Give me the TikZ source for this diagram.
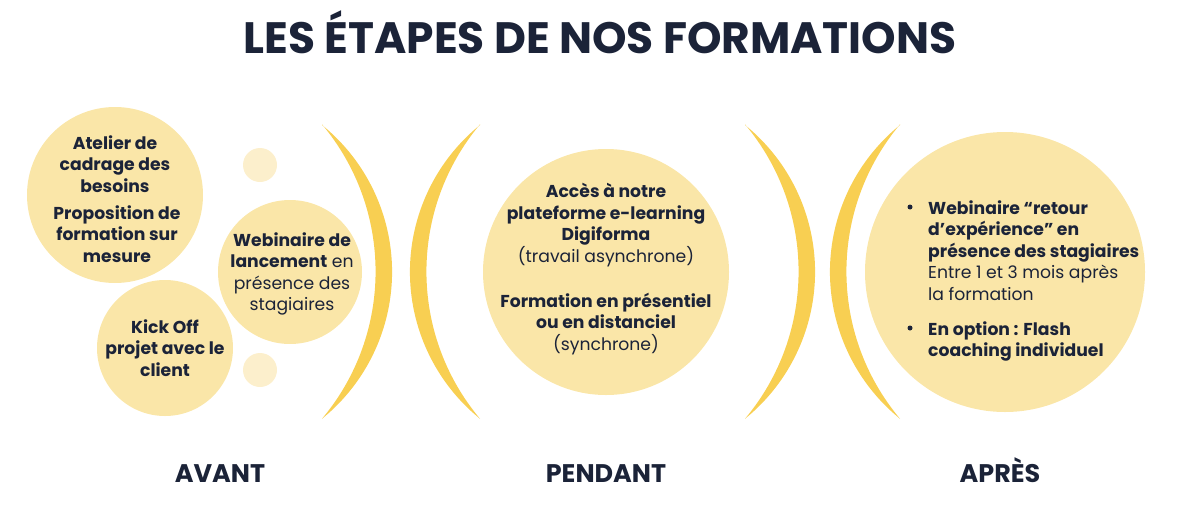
\documentclass[tikz,border=0pt]{standalone}
\usepackage{fontspec}
\setmainfont{Poppins}
\usetikzlibrary{positioning}
\definecolor{navy}{HTML}{1B2338}
\definecolor{bulle}{HTML}{FAE6A8}
\definecolor{pale}{HTML}{FCEFCC}
\definecolor{jaune}{HTML}{F8CF52}
\tikzset{
  bulle/.style={circle,fill=bulle,inner sep=0pt,minimum size=#1*0.02cm},
  txt/.style={text=navy,align=center,font=\fontsize{9.8}{12.3}\selectfont},
  puce/.style={circle,fill=navy,inner sep=0pt,minimum size=5*0.02cm},
  etape/.style={text=navy,anchor=base,font=\fontsize{14.5}{16}\selectfont\bfseries},
  arc/.style={fill=jaune}
}
% demi-lune en forme de parenthese
\newcommand\parenth[2]{%
  \fill[arc,shift={(#1,0)},xscale=#2] (0,387) arc[start angle=51,end angle=-51,radius=189]
    arc[start angle=-40,end angle=40,radius=229] -- cycle;}
\begin{document}
\begin{tikzpicture}[x=0.02cm,y=0.02cm]
  \useasboundingbox (0,0) rectangle (1200,512);

  % titre
  \node[text=navy,font=\fontsize{25}{28}\selectfont\bfseries] (titre) at (600,480) {LES ÉTAPES DE NOS FORMATIONS};

  % bulles
  \node[bulle=176] (atelier) at (115,317) {};
  \node[bulle=136] (kickoff) at (165,164) {};
  \node[bulle=144] (webinaire) at (290,240) {};
  \node[bulle=34,fill=pale] (pointA) at (260,347) {};
  \node[bulle=34,fill=pale] (pointB) at (260,142) {};
  \node[bulle=246] (pendant) at (606,240) {};
  \node[bulle=280] (apres) at (1005,240) {};

  % parentheses
  \parenth{322}{1}
  \parenth{480}{-1}
  \parenth{745}{1}
  \parenth{900}{-1}

  % textes
  \node[txt] (t1) at (115,348) {\bfseries Atelier de\\\bfseries cadrage des\\\bfseries besoins};
  \node[txt] (t2) at (117,278) {\bfseries Proposition de\\\bfseries formation sur\\\bfseries mesure};
  \node[txt] (t3) at (165,164) {\bfseries Kick Off\\\bfseries projet avec le\\\bfseries client};
  \node[txt] (t4) at (292,238) {\textbf{Webinaire de}\\\textbf{lancement} en\\présence des\\stagiaires};
  \node[txt] (t5) at (606,287) {\bfseries Accès à notre\\\bfseries plateforme e-learning\\\bfseries Digiforma\\(travail asynchrone)};
  \node[txt] (t6) at (606,188) {\bfseries Formation en présentiel\\\bfseries ou en distanciel\\(synchrone)};
  \node[txt,align=left,anchor=north west] (t7) at (922,318) {\bfseries Webinaire “retour\\\bfseries d’expérience” en\\\bfseries présence des stagiaires\\Entre 1 et 3 mois après\\la formation};
  \node[txt,align=left,anchor=north west] (t8) at (922,197) {\bfseries En option : Flash\\\bfseries coaching individuel};
  \node[puce] (b1) at (910,305) {};
  \node[puce] (b2) at (910,184) {};

  % etapes
  \node[etape] (avant) at (220,30) {AVANT};
  \node[etape] (pendantL) at (606,30) {PENDANT};
  \node[etape] (apresL) at (1000,30) {APRÈS};
\end{tikzpicture}
\end{document}
